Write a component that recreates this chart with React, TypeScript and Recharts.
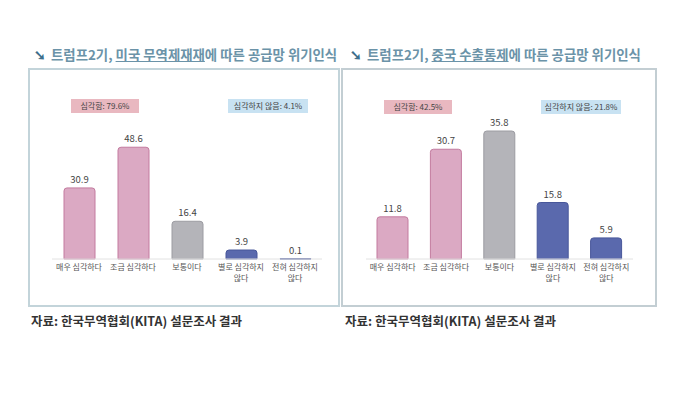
import React from 'react';
import { BarChart, Bar, XAxis, YAxis, Cell, LabelList } from 'recharts';

const categories = ['매우 심각하다', '조금 심각하다', '보통이다', '별로 심각하지\n않다', '전혀 심각하지\n않다'];
const usSanctionValues = [30.9, 48.6, 16.4, 3.9, 0.1];
const chinaExportValues = [11.8, 30.7, 35.8, 15.8, 5.9];
const usSummary = ['심각함: 79.6%', '심각하지 않음: 4.1%'];
const chinaSummary = ['심각함: 42.5%', '심각하지 않음: 21.8%'];
const sourceNote = '자료: 한국무역협회(KITA) 설문조사 결과';

const FONT = '"Noto Sans CJK KR", "Noto Sans", sans-serif';
const fills = ['#dba9c3', '#dba9c3', '#b4b4b9', '#5a69ad', '#5a69ad'];
const strokes = ['#c37b9f', '#c37b9f', '#9c9ca2', '#48579a', '#48579a'];

const CategoryTick = (props: any) => {
    const { x, y, payload } = props;
    const lines = String(payload.value).split('\n');
    return (
        <text x={x} y={y} textAnchor="middle" fontSize={8} fill="#555" fontFamily={FONT}>
            {lines.map((l, i) => (
                <tspan key={i} x={x} dy={i === 0 ? 3 : 11}>{l}</tspan>
            ))}
        </text>
    );
};

function Panel(props: { values: number[]; max: number; marginTop: number; width: number; left: number; right: number }) {
    const data = categories.map((name, i) => ({ name, value: props.values[i] }));
    return (
        <BarChart
            width={props.width}
            height={239}
            data={data}
            margin={{ top: props.marginTop, right: props.right, left: props.left, bottom: 0 }}
            barSize={31}
        >
            <XAxis
                dataKey="name"
                interval={0}
                height={49}
                tickLine={false}
                axisLine={{ stroke: '#e2e2e2' }}
                tick={<CategoryTick />}
            />
            <YAxis hide domain={[0, props.max]} />
            <Bar dataKey="value" radius={[3, 3, 0, 0]} strokeWidth={1} isAnimationActive={false}>
                {data.map((d, i) => (
                    <Cell key={d.name} fill={fills[i]} stroke={strokes[i]} />
                ))}
                <LabelList dataKey="value" position="top" offset={5} fontSize={9.5} fill="#444" fontFamily={FONT} />
            </Bar>
        </BarChart>
    );
}

const boxStyle: React.CSSProperties = {
    position: 'absolute',
    height: 14,
    lineHeight: '14px',
    fontSize: 8,
    color: '#444',
    textAlign: 'center',
    fontFamily: FONT,
};

function Title(props: { before: string; under: string; after: string; left: number }) {
    return (
        <div style={{ position: 'absolute', left: props.left, top: 44, fontSize: 13.4, fontWeight: 700, color: '#6b93a8', fontFamily: FONT, whiteSpace: 'nowrap' }}>
            <span style={{ color: '#3f6f8c', marginRight: 5, fontSize: 14 }}>➘</span>
            {props.before}
            <span style={{ textDecoration: 'underline' }}>{props.under}</span>
            {props.after}
        </div>
    );
}

export default function App() {
    return (
        <div style={{ position: 'absolute', left: 0, top: 0, width: 699, height: 393, background: '#fff', fontFamily: FONT }}>
            <Title before="트럼프2기, " under="미국 무역제재재" after="에 따른 공급망 위기인식" left={34} />
            <Title before="트럼프2기, " under="중국 수출통제" after="에 따른 공급망 위기인식" left={350} />

            <div style={{ position: 'absolute', left: 28, top: 68, width: 312, height: 239, border: '2px solid #c3d4da', boxSizing: 'border-box' }} />
            <div style={{ position: 'absolute', left: 341, top: 68, width: 316, height: 239, border: '2px solid #c3ced3', boxSizing: 'border-box' }} />

            <div style={{ position: 'absolute', left: 29, top: 69 }}>
                <Panel values={usSanctionValues} max={50} marginTop={75} width={311} left={23} right={18} />
            </div>
            <div style={{ position: 'absolute', left: 342, top: 69 }}>
                <Panel values={chinaExportValues} max={40} marginTop={47} width={314} left={24} right={23} />
            </div>

            <div style={{ ...boxStyle, left: 71, top: 99, width: 68, background: '#e9b8c0' }}>{usSummary[0]}</div>
            <div style={{ ...boxStyle, left: 228, top: 99, width: 80, background: '#c8e2f2' }}>{usSummary[1]}</div>
            <div style={{ ...boxStyle, left: 384, top: 100, width: 68, background: '#e9b8c0' }}>{chinaSummary[0]}</div>
            <div style={{ ...boxStyle, left: 541, top: 100, width: 80, background: '#c8e2f2' }}>{chinaSummary[1]}</div>

            <div style={{ position: 'absolute', left: 31, top: 311, fontSize: 12.5, fontWeight: 700, color: '#333' }}>{sourceNote}</div>
            <div style={{ position: 'absolute', left: 345, top: 311, fontSize: 12.5, fontWeight: 700, color: '#333' }}>{sourceNote}</div>
        </div>
    );
}
